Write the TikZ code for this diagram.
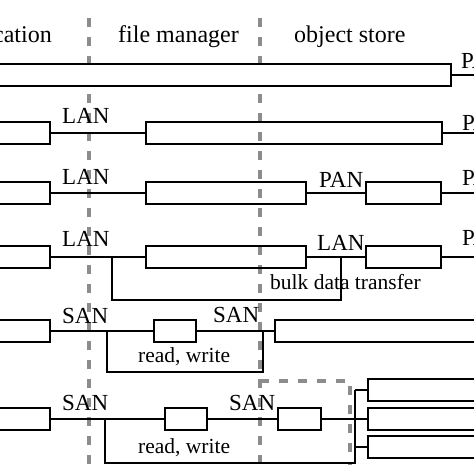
\documentclass[tikz,border=0pt]{standalone}
\usepackage{fontspec}
\setmainfont{Liberation Serif}
\begin{document}
\begin{tikzpicture}[x=1pt,y=-1pt,
  box/.style={draw,line width=1.3pt,inner sep=0pt,minimum height=22pt},
  ln/.style={line width=1.3pt},
  dsh/.style={draw={rgb,255:red,140;green,140;blue,140},line width=3.4pt,dash pattern=on 9pt off 10pt},
  head/.style={inner sep=0pt,font=\fontsize{24}{28}\selectfont},
  lbl/.style={anchor=base west,inner sep=0pt,font=\fontsize{23}{26}\selectfont},
  note/.style={anchor=base west,inner sep=0pt,font=\fontsize{21.5}{25}\selectfont}]
\useasboundingbox (0,0) rectangle (474,474);
\clip (0,0) rectangle (474,474);
\fill[white] (0,0) rectangle (474,474);

% dashed separators
\draw[dsh] (89,18) -- (89,490);
\draw[dsh] (260,18) -- (260,490);
\draw[dsh] (260,381) -- (350,381) -- (350,465);

% headings
\node[head,anchor=base east] (hApp) at (52,42) {application};
\node[head,anchor=base west] (hFm) at (118,42) {file manager};
\node[head,anchor=base west] (hOs) at (294,42) {object store};

% row 1
\node[box,fill=white,minimum width=520pt] (r1) at (191,75) {};
\coordinate (o1) at (490,75);
\draw[ln] (r1.east) -- (o1);
\node[lbl] (p1) at (461,68) {PAN};

% row 2
\node[box,minimum width=110pt] (L2) at (-5,133) {};
\node[box,minimum width=296pt] (M2) at (294,133) {};
\coordinate (o2) at (490,133);
\draw[ln] (L2.east) -- (M2.west);
\draw[ln] (M2.east) -- (o2);
\node[lbl] (n2) at (62,123) {LAN};
\node[lbl] (p2) at (462,130) {PAN};

% row 3
\node[box,minimum width=110pt] (L3) at (-5,193) {};
\node[box,minimum width=160pt] (M3) at (226,193) {};
\node[box,minimum width=75pt] (P3) at (403.5,193) {};
\coordinate (o3) at (490,193);
\draw[ln] (L3.east) -- (M3.west);
\draw[ln] (M3.east) -- (P3.west);
\draw[ln] (P3.east) -- (o3);
\node[lbl] (n3) at (62,184) {LAN};
\node[lbl] (q3) at (319,187) {PAN};
\node[lbl] (p3) at (462,185) {PAN};

% row 4
\node[box,minimum width=110pt] (L4) at (-5,257) {};
\node[box,minimum width=160pt] (M4) at (226,257) {};
\node[box,minimum width=75pt] (P4) at (403.5,257) {};
\coordinate (o4) at (490,257);
\coordinate (j4a) at (112,257);
\coordinate (j4b) at (341,257);
\draw[ln] (L4.east) -- (M4.west);
\draw[ln] (M4.east) -- (P4.west);
\draw[ln] (P4.east) -- (o4);
\draw[ln] (j4a) -- (112,300) -| (j4b);
\node[lbl] (n4) at (62,246) {LAN};
\node[lbl] (q4) at (317,250) {LAN};
\node[note] (bulk) at (270,289) {bulk data transfer};
\node[lbl] (p4) at (462,245) {PAN};

% row 5
\node[box,minimum width=110pt] (L5) at (-5,331) {};
\node[box,minimum width=42pt] (S5) at (175,331) {};
\node[box,minimum width=285pt] (B5) at (417.5,331) {};
\coordinate (j5a) at (107,331);
\coordinate (j5b) at (263,331);
\draw[ln] (L5.east) -- (S5.west);
\draw[ln] (S5.east) -- (B5.west);
\draw[ln] (j5a) -- (107,372) -| (j5b);
\node[lbl] (n5) at (62,323) {SAN};
\node[lbl] (q5) at (213,322) {SAN};
\node[note] (rw5) at (138,362) {read, write};

% row 6
\node[box,minimum width=110pt] (L6) at (-5,419) {};
\node[box,minimum width=42pt] (S6) at (186,419) {};
\node[box,minimum width=43pt] (T6) at (299.5,419) {};
\node[box,minimum width=192pt] (D1) at (464,390) {};
\node[box,minimum width=192pt] (D2) at (464,419) {};
\node[box,minimum width=192pt] (D3) at (464,447) {};
\coordinate (j6a) at (105,419);
\coordinate (v1) at (355,390);
\coordinate (v2) at (355,419);
\coordinate (v3) at (355,447);
\draw[ln] (L6.east) -- (S6.west);
\draw[ln] (S6.east) -- (T6.west);
\draw[ln] (T6.east) -- (v2);
\draw[ln] (j6a) -- (105,463) -| (v1);
\draw[ln] (v1) -- (D1.west);
\draw[ln] (v2) -- (D2.west);
\draw[ln] (v3) -- (D3.west);
\node[lbl] (n6) at (62,410) {SAN};
\node[lbl] (q6) at (229,410) {SAN};
\node[note] (rw6) at (138,453) {read, write};
\end{tikzpicture}
\end{document}
